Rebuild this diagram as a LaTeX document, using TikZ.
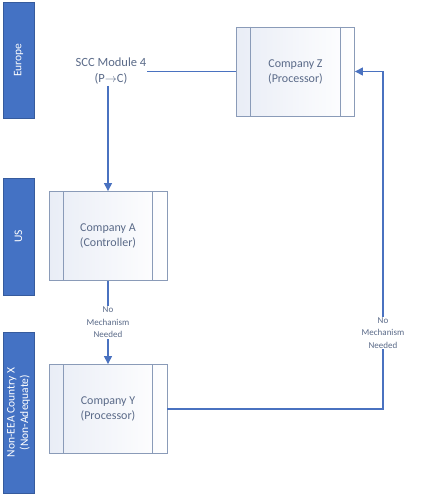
\documentclass[tikz,border=0pt]{standalone}
\usepackage{fontspec}
\setmainfont{Carlito}
\usetikzlibrary{arrows.meta,calc}
\definecolor{band}{HTML}{4472C4}
\definecolor{conn}{HTML}{4A72C0}
\definecolor{boxline}{HTML}{8A9BB8}
\definecolor{boxfill}{HTML}{E9EDF6}
\definecolor{txt}{HTML}{5A6A88}
\tikzset{
  bandbox/.style={fill=band, draw=band!80!black, line width=0.4pt, text=white, rotate=90,
    font=\fontsize{11.5}{13.5}\selectfont, align=center, inner sep=0pt},
  procbox/.style={draw=boxline, line width=0.9pt, left color=boxfill, right color=white,
    minimum width=118pt, minimum height=89pt, text=txt,
    font=\fontsize{12}{15}\selectfont, align=center},
  conn/.style={draw=conn, line width=1.4pt},
  arr/.style={conn, -{Triangle[length=8pt,width=8pt]}},
  small/.style={fill=white, text=txt, font=\fontsize{9}{12.5}\selectfont, align=center, inner sep=1pt},
  lbl/.style={text=txt, font=\fontsize{12.5}{16}\selectfont, align=center}
}
\newcommand{\procsides}[1]{%
  \draw[boxline, line width=0.9pt] ($(#1.north west)+(14.5pt,0)$) -- ($(#1.south west)+(14.5pt,0)$);
  \draw[boxline, line width=0.9pt] ($(#1.north east)+(-15pt,0)$) -- ($(#1.south east)+(-15pt,0)$);}
\begin{document}
\begin{tikzpicture}[x=1pt,y=-1pt]
\useasboundingbox (0,0) rectangle (440,501);
% bands
\node[bandbox, minimum width=116pt, minimum height=31pt] (eu) at (18.5,60) {Europe};
\node[bandbox, minimum width=117pt, minimum height=31pt] (us) at (18.5,236.5) {US};
\node[bandbox, minimum width=161pt, minimum height=31pt] (nx) at (18.5,412.5) {Non-EEA Country X\\(Non-Adequate)};
% boxes
\node[procbox] (z) at (295.5,71.5) {Company Z\\(Processor)};
\procsides{z}
\node[procbox] (a) at (108,236) {Company A\\(Controller)};
\procsides{a}
\node[procbox] (y) at (108,409) {Company Y\\(Processor)};
\procsides{y}
% SCC label
\node[lbl, inner sep=1pt] (scc) at (111,71.5) {SCC Module 4\\(P$\rightarrow$C)};
\coordinate (r) at (383,240);
% connectors
\draw[conn] (scc.east) -- (z.west);
\draw[arr] (scc.south -| a.north) -- (a.north);
\draw[arr] (a.south) -- node[small] (m1) {No\\Mechanism\\Needed} (y.north);
\draw[arr] (y.east) -- (y.east -| r) |- (z.east);
\node[small] (m2) at (383,333) {No\\Mechanism\\Needed};
\end{tikzpicture}
\end{document}
